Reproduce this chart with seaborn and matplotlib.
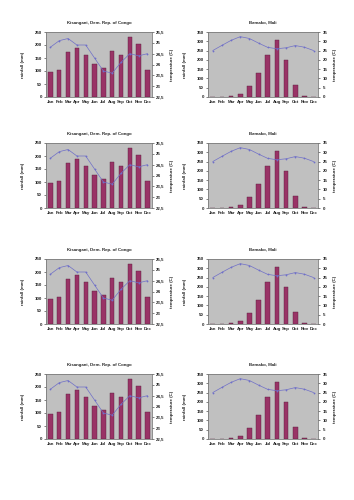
import matplotlib
matplotlib.use("Agg")
import matplotlib.pyplot as plt
import seaborn as sns
import numpy as np
import pandas as pd
from matplotlib.ticker import FuncFormatter, MultipleLocator

months = ["Jan", "Feb", "Mar", "Apr", "May", "Jun", "Jul", "Aug", "Sep", "Oct", "Nov", "Dec"]

kis_title = "Kisangani, Dem. Rep. of Congo"
kis_rain = [95, 105, 172, 188, 160, 127, 113, 177, 163, 232, 205, 103]
kis_temp = [24.8, 25.1, 25.2, 24.9, 24.9, 24.3, 23.7, 23.6, 24.1, 24.5, 24.4, 24.5]

bam_title = "Bamako, Mali"
bam_rain = [0, 0, 3, 17, 58, 130, 228, 305, 197, 62, 6, 0]
bam_temp = [25.0, 27.8, 30.5, 32.5, 31.5, 29.0, 26.7, 26.0, 26.5, 27.7, 26.8, 25.0]

sns.set_theme(style="white")
plt.rcParams["font.family"] = ["Liberation Sans", "DejaVu Sans"]

BAR = "#993366"
LINE = "#6f6fc8"
BG = "#c0c0c0"
FS = 3.2

fig = plt.figure(figsize=(3.54, 5.0), dpi=100)

row_bottoms = [0.806, 0.584, 0.352, 0.122]
H = 0.13

def comma(v, pos):
    return ("%g" % v).replace(".", ",")

def panel(rect, title, rain, temp, rmax, rstep, tmin, tmax, tstep):
    ax = fig.add_axes(rect)
    df = pd.DataFrame({"month": months, "rain": rain, "temp": temp,
                       "pos": np.arange(len(months))})
    sns.barplot(data=df, x="month", y="rain", color=BAR, width=0.5,
                edgecolor="#5a1f3c", linewidth=0.3, saturation=1, ax=ax)
    ax.set_facecolor(BG)
    ax.set_ylim(0, rmax)
    ax.yaxis.set_major_locator(MultipleLocator(rstep))
    ax.set_xlabel("")
    ax.set_ylabel("rainfall (mm)", fontsize=FS, fontweight="bold", labelpad=7)
    ax.set_title(title, fontsize=FS, fontweight="bold", pad=6)
    ax2 = ax.twinx()
    sns.lineplot(data=df, x="pos", y="temp", color=LINE, marker="o",
                 markersize=1.3, markeredgewidth=0, linewidth=0.5, ax=ax2)
    ax2.set_ylim(tmin, tmax)
    ax2.yaxis.set_major_locator(MultipleLocator(tstep))
    ax2.yaxis.set_major_formatter(FuncFormatter(comma))
    ax2.set_xlabel("")
    ax2.set_ylabel("temperature (C)", fontsize=FS, fontweight="bold",
                   rotation=90, labelpad=4)
    ax.set_xlim(-0.5, 11.5)
    for a in (ax, ax2):
        a.tick_params(axis="both", labelsize=FS, length=1.5, width=0.4,
                      pad=1.5, colors="#222222")
        for lbl in a.get_xticklabels() + a.get_yticklabels():
            lbl.set_fontweight("bold")
        for sp in a.spines.values():
            sp.set_linewidth(0.4)
            sp.set_color("#777777")
    ax.tick_params(axis="x", length=0, pad=2.5)
    ax2.tick_params(axis="x", length=0)
    return ax, ax2

for b in row_bottoms:
    panel([0.130, b, 0.299, H], kis_title, kis_rain, kis_temp, 250, 50, 22.5, 25.5, 0.5)
    panel([0.588, b, 0.311, H], bam_title, bam_rain, bam_temp, 350, 50, 0, 35, 5)

fig.savefig("out.png", dpi=100)
